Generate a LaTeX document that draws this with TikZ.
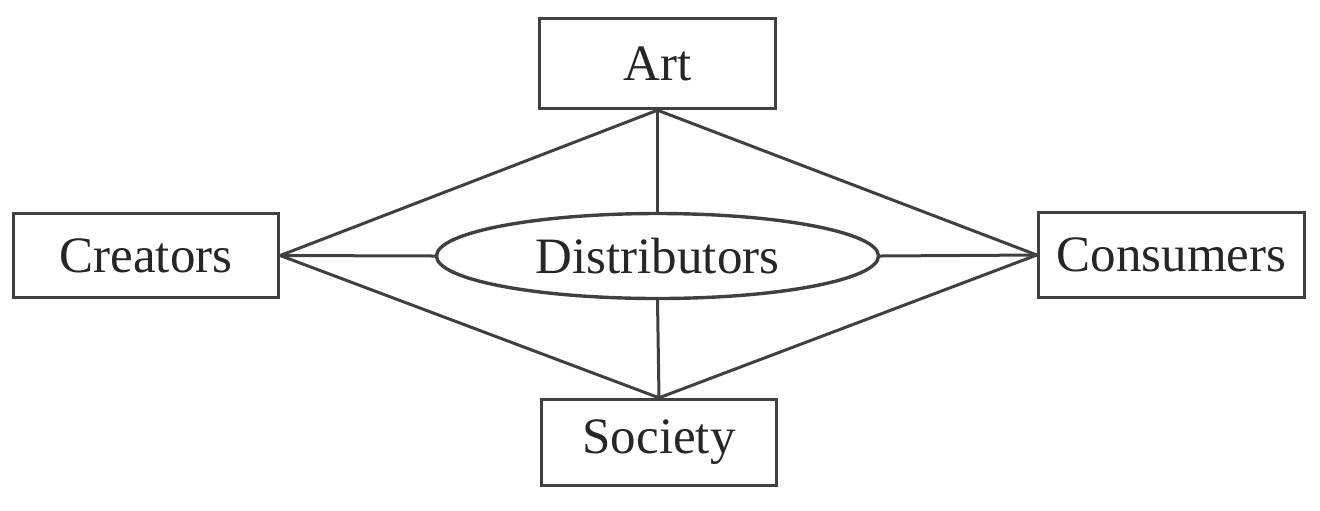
\documentclass[tikz,border=0pt]{standalone}
\usepackage{fontspec}
\setmainfont{Liberation Serif}
\usetikzlibrary{shapes.geometric}
\begin{document}
\begin{tikzpicture}[x=0.5pt,y=-0.5pt,
  ent/.style={draw=black!75, line width=1.7pt, fill=white, inner sep=0pt,
    font=\fontsize{25.5}{30}\selectfont, text=black!85},
  box/.style={ent, rectangle},
  oval/.style={ent, ellipse},
  link/.style={draw=black!75, line width=1.5pt}]
\useasboundingbox (0,0) rectangle (1320,510);
\node[box, minimum width=118pt, minimum height=45pt] (art) at (657.5,63.5) {Art};
\node[box, minimum width=132.5pt, minimum height=42pt] (cre) at (146,255.5) {Creators};
\node[box, minimum width=133pt, minimum height=42.5pt] (con) at (1171.5,255) {Consumers};
\node[box, minimum width=117.5pt, minimum height=43pt] (soc) at (659,442.5) {Society};
\node[oval, minimum width=221pt, minimum height=42.5pt] (dist) at (657.5,256) {Distributors};
\path[link] (art.south) -- (cre.east);
\path[link] (art.south) -- (con.west);
\path[link] (art.south) -- (dist.north);
\path[link] (cre.east) -- (dist.west);
\path[link] (dist.east) -- (con.west);
\path[link] (cre.east) -- (soc.north);
\path[link] (con.west) -- (soc.north);
\path[link] (dist.south) -- (soc.north);
\end{tikzpicture}
\end{document}
